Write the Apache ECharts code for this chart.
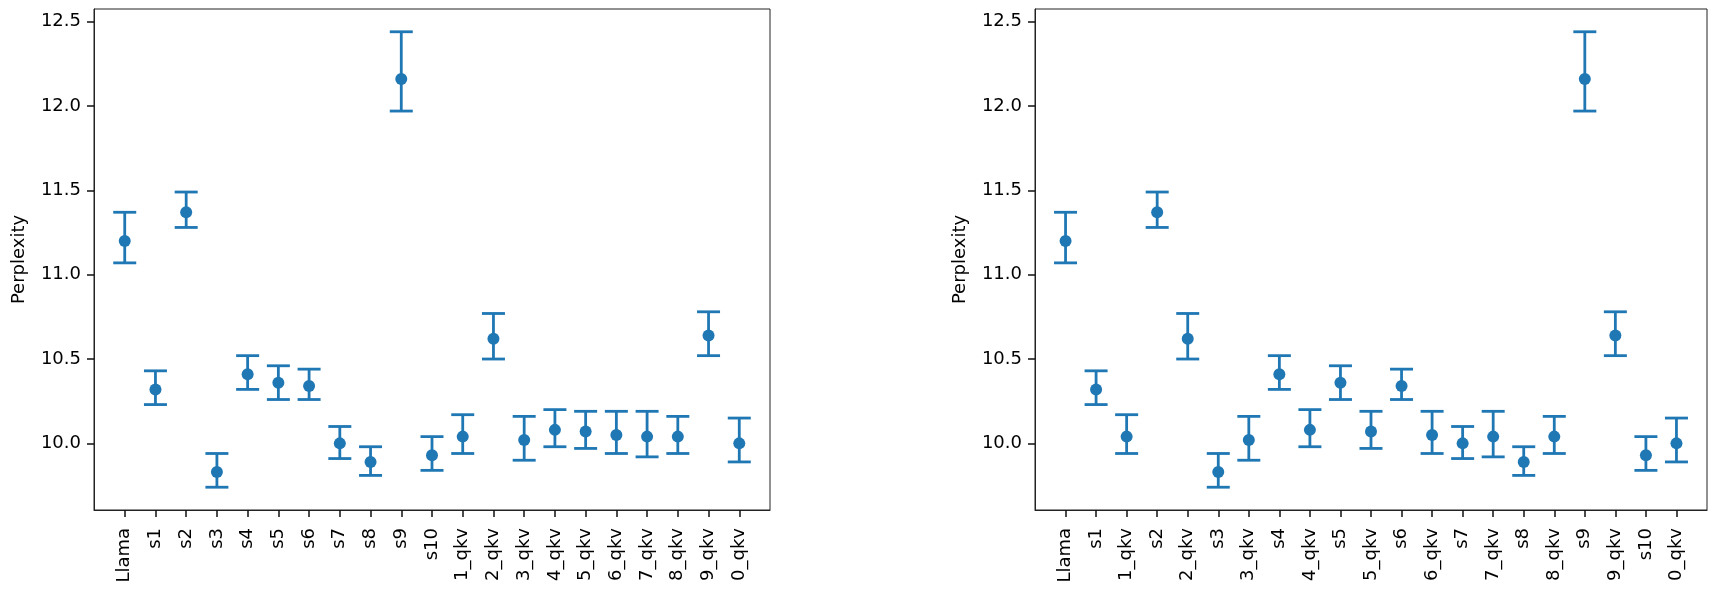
<!DOCTYPE html>
<html>
<head>
<meta charset="utf-8">
<script src="https://cdn.jsdelivr.net/npm/echarts@6/dist/echarts.min.js"></script>
<style>
html,body{margin:0;padding:0;background:#fff;}
#chart{width:1725px;height:589px;}
</style>
</head>
<body>
<div id="chart"></div>
<script>
// Categories (left panel order)
const models = ['Llama','s1','s2','s3','s4','s5','s6','s7','s8','s9','s10','1_qkv','2_qkv','3_qkv','4_qkv','5_qkv','6_qkv','7_qkv','8_qkv','9_qkv','0_qkv'];
// Mean perplexity
const meanPpl = [11.20, 10.32, 11.37, 9.83, 10.41, 10.36, 10.34, 10.00, 9.89, 12.16, 9.93, 10.04, 10.62, 10.02, 10.08, 10.07, 10.05, 10.04, 10.04, 10.64, 10.00];
// Lower error bound
const lowerPpl = [11.07, 10.23, 11.28, 9.74, 10.32, 10.26, 10.26, 9.91, 9.81, 11.97, 9.84, 9.94, 10.50, 9.90, 9.98, 9.97, 9.94, 9.92, 9.94, 10.52, 9.89];
// Upper error bound
const upperPpl = [11.37, 10.43, 11.49, 9.94, 10.52, 10.46, 10.44, 10.10, 9.98, 12.44, 10.04, 10.17, 10.77, 10.16, 10.20, 10.19, 10.19, 10.19, 10.16, 10.78, 10.15];
// Right panel order
const rightOrder = ['Llama','s1','1_qkv','s2','2_qkv','s3','3_qkv','s4','4_qkv','s5','5_qkv','s6','6_qkv','s7','7_qkv','s8','8_qkv','s9','9_qkv','s10','0_qkv'];
// Y tick labels
const yTicks = [10.0, 10.5, 11.0, 11.5, 12.0, 12.5];

const COLOR = '#1f77b4';
const FONT = 'DejaVu Sans';
const TXT = '#000';
const FS = 18;
const PAD_L = '\u200b', PAD_R = '\u200b\u200b';

function panelData(order){
  return order.map(n=>{
    const k = models.indexOf(n);
    return {name:n, mean:meanPpl[k], lo:lowerPpl[k], hi:upperPpl[k]};
  });
}
const leftData = panelData(models);
const rightData = panelData(rightOrder);

const grids = [
  {left:94, right:955, top:9, bottom:79, show:true, borderColor:'#222', borderWidth:1},
  {left:1035, right:18, top:9, bottom:79, show:true, borderColor:'#222', borderWidth:1}
];

function xAxis(gi, order){
  const cats = [PAD_L].concat(order, [PAD_R]);
  const inner = (i)=> i>0 && i<cats.length-1;
  return {
    type:'category', gridIndex:gi, data:cats, boundaryGap:false,
    axisLine:{show:true, onZero:false, lineStyle:{color:'#222'}},
    axisTick:{show:true, length:7, interval:(i)=>inner(i), lineStyle:{color:'#111', width:1.5}},
    axisLabel:{show:true, rotate:90, margin:18, fontFamily:FONT, fontSize:FS, color:TXT,
      interval:(i)=>inner(i)}
  };
}
function yAxis(gi){
  return {
    type:'value', gridIndex:gi, min:9.605, max:12.575,
    name:'Perplexity', nameLocation:'middle', nameGap:66, nameRotate:90,
    nameTextStyle:{fontFamily:FONT, fontSize:FS, color:TXT},
    splitLine:{show:false},
    axisLine:{show:true, onZero:false, lineStyle:{color:'#222'}},
    axisTick:{show:true, length:7, lineStyle:{color:'#111', width:1.5}, customValues:yTicks},
    axisLabel:{show:true, margin:13, fontFamily:FONT, fontSize:FS, color:TXT,
      customValues:yTicks, formatter:v=>v.toFixed(1)}
  };
}

function errSeries(gi, data){
  return {
    type:'custom', xAxisIndex:gi, yAxisIndex:gi,
    data:data.map(d=>[d.name, d.lo, d.hi]),
    encode:{x:0, y:[1,2]},
    renderItem:function(params, api){
      const x = api.value(0);
      const lo = api.coord([x, api.value(1)]);
      const hi = api.coord([x, api.value(2)]);
      const hw = 11.5;
      const style = {stroke:COLOR, lineWidth:2.8, fill:null};
      return {type:'group', children:[
        {type:'line', shape:{x1:lo[0], y1:lo[1], x2:hi[0], y2:hi[1]}, style:style},
        {type:'line', shape:{x1:lo[0]-hw, y1:lo[1], x2:lo[0]+hw, y2:lo[1]}, style:style},
        {type:'line', shape:{x1:hi[0]-hw, y1:hi[1], x2:hi[0]+hw, y2:hi[1]}, style:style}
      ]};
    },
    silent:true, z:2
  };
}
function ptSeries(gi, data){
  return {
    type:'scatter', xAxisIndex:gi, yAxisIndex:gi,
    data:data.map(d=>[d.name, d.mean]),
    symbol:'circle', symbolSize:12,
    itemStyle:{color:COLOR, opacity:1},
    silent:true, z:3
  };
}

const chart = echarts.init(document.getElementById('chart'));
chart.setOption({
  animation:false,
  backgroundColor:'#fff',
  grid:grids,
  xAxis:[xAxis(0, models), xAxis(1, rightOrder)],
  yAxis:[yAxis(0), yAxis(1)],
  series:[errSeries(0, leftData), ptSeries(0, leftData), errSeries(1, rightData), ptSeries(1, rightData)]
});
</script>
</body>
</html>
